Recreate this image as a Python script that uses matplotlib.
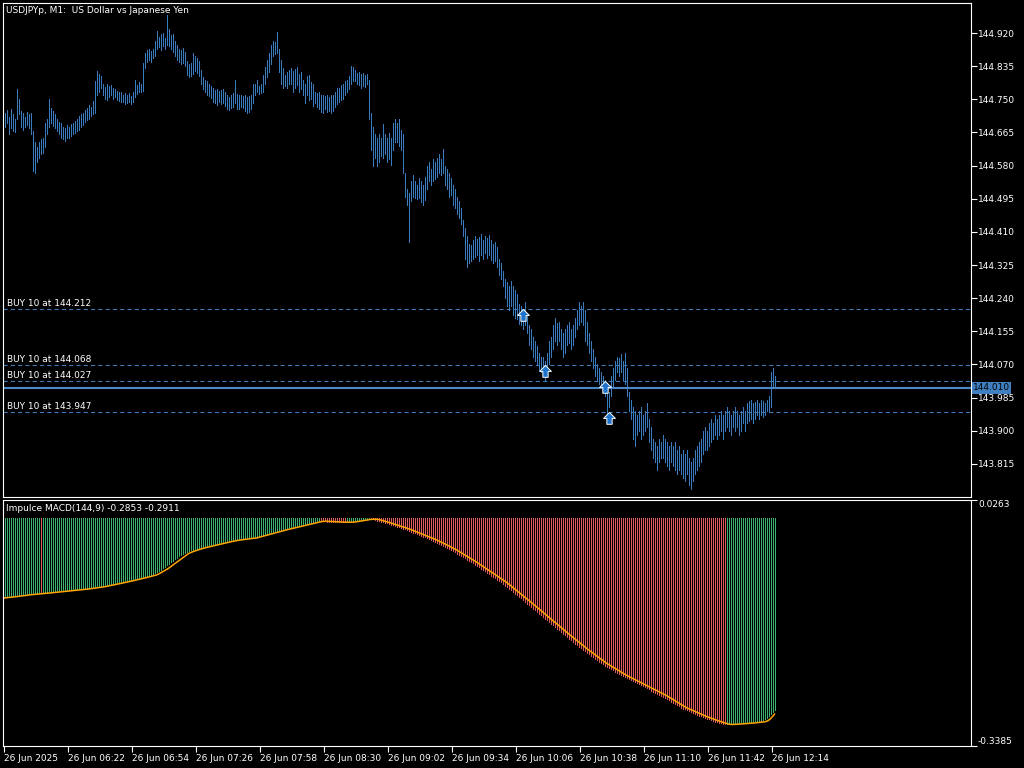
import numpy as np
import matplotlib
matplotlib.use("Agg")
import matplotlib.pyplot as plt
from matplotlib.path import Path
from matplotlib.ticker import FormatStrFormatter

# M1 bars, USDJPYp, 26 Jun 2025 from 05:50
highs = [
    144.716, 144.722, 144.705, 144.724, 144.712, 144.700, 144.776, 144.752, 144.720, 144.715,
    144.705, 144.718, 144.712, 144.716, 144.668, 144.640, 144.628, 144.640, 144.648, 144.650,
    144.688, 144.700, 144.752, 144.728, 144.720, 144.712, 144.700, 144.692, 144.690, 144.680,
    144.676, 144.684, 144.680, 144.686, 144.690, 144.694, 144.700, 144.706, 144.712, 144.716,
    144.722, 144.728, 144.736, 144.730, 144.746, 144.798, 144.822, 144.816, 144.810, 144.790,
    144.782, 144.790, 144.784, 144.786, 144.780, 144.776, 144.772, 144.770, 144.768, 144.762,
    144.766, 144.760, 144.766, 144.758, 144.770, 144.800, 144.786, 144.794, 144.790, 144.842,
    144.870, 144.876, 144.878, 144.874, 144.880, 144.900, 144.926, 144.910, 144.918, 144.920,
    144.906, 144.965, 144.930, 144.914, 144.918, 144.900, 144.890, 144.880, 144.876, 144.882,
    144.872, 144.848, 144.840, 144.844, 144.870, 144.862, 144.856, 144.848, 144.826, 144.808,
    144.800, 144.796, 144.790, 144.784, 144.778, 144.774, 144.776, 144.772, 144.774, 144.776,
    144.770, 144.760, 144.756, 144.760, 144.766, 144.800, 144.764, 144.760, 144.762, 144.758,
    144.760, 144.756, 144.758, 144.760, 144.788, 144.790, 144.800, 144.784, 144.790, 144.812,
    144.832, 144.850, 144.870, 144.888, 144.900, 144.898, 144.922, 144.880, 144.850, 144.830,
    144.812, 144.820, 144.824, 144.830, 144.822, 144.828, 144.832, 144.814, 144.820, 144.800,
    144.790, 144.810, 144.812, 144.794, 144.790, 144.770, 144.766, 144.770, 144.760, 144.762,
    144.758, 144.762, 144.756, 144.760, 144.762, 144.770, 144.780, 144.778, 144.786, 144.790,
    144.798, 144.800, 144.810, 144.836, 144.832, 144.826, 144.818, 144.820, 144.816, 144.818,
    144.812, 144.816, 144.800, 144.715, 144.680, 144.660, 144.652, 144.660, 144.650, 144.686,
    144.660, 144.650, 144.664, 144.650, 144.690, 144.700, 144.690, 144.700, 144.672, 144.660,
    144.560, 144.520, 144.510, 144.540, 144.556, 144.540, 144.530, 144.548, 144.540, 144.530,
    144.552, 144.580, 144.590, 144.572, 144.596, 144.590, 144.600, 144.610, 144.598, 144.622,
    144.580, 144.570, 144.560, 144.548, 144.530, 144.520, 144.500, 144.490, 144.470, 144.440,
    144.420, 144.400, 144.380, 144.376, 144.390, 144.400, 144.392, 144.396, 144.404, 144.390,
    144.400, 144.394, 144.402, 144.390, 144.380, 144.384, 144.370, 144.340, 144.330, 144.310,
    144.290, 144.282, 144.270, 144.284, 144.270, 144.260, 144.250, 144.226, 144.220, 144.210,
    144.230, 144.200, 144.170, 144.160, 144.140, 144.130, 144.116, 144.100, 144.090, 144.090,
    144.080, 144.100, 144.130, 144.140, 144.170, 144.190, 144.176, 144.180, 144.160, 144.150,
    144.160, 144.170, 144.180, 144.160, 144.170, 144.190, 144.210, 144.230, 144.220, 144.230,
    144.210, 144.180, 144.150, 144.130, 144.110, 144.090, 144.070, 144.060, 144.050, 144.040,
    144.030, 144.020, 144.000, 144.040, 144.060, 144.080, 144.090, 144.086, 144.096, 144.080,
    144.100, 144.060, 144.000, 143.980, 143.960, 143.950, 143.940, 143.950, 143.960, 143.940,
    143.950, 143.970, 143.930, 143.910, 143.880, 143.870, 143.860, 143.880, 143.870, 143.890,
    143.880, 143.870, 143.860, 143.870, 143.860, 143.870, 143.850, 143.860, 143.840, 143.850,
    143.840, 143.850, 143.830, 143.820, 143.830, 143.850, 143.860, 143.870, 143.880, 143.900,
    143.910, 143.900, 143.920, 143.930, 143.920, 143.940, 143.930, 143.940, 143.950, 143.940,
    143.950, 143.960, 143.950, 143.940, 143.950, 143.960, 143.950, 143.940, 143.950, 143.960,
    143.950, 143.970, 143.976, 143.980, 143.970, 143.974, 143.980, 143.970, 143.980, 143.976,
    143.970, 143.980, 143.990, 144.050, 144.060, 144.040,
]
lows = [
    144.680, 144.690, 144.662, 144.676, 144.668, 144.665, 144.700, 144.712, 144.680, 144.672,
    144.680, 144.684, 144.676, 144.662, 144.565, 144.562, 144.590, 144.600, 144.610, 144.612,
    144.628, 144.660, 144.680, 144.690, 144.682, 144.676, 144.668, 144.660, 144.650, 144.648,
    144.644, 144.650, 144.652, 144.656, 144.660, 144.664, 144.668, 144.670, 144.678, 144.684,
    144.692, 144.696, 144.700, 144.706, 144.712, 144.716, 144.760, 144.770, 144.780, 144.760,
    144.752, 144.748, 144.756, 144.760, 144.752, 144.756, 144.748, 144.746, 144.744, 144.742,
    144.738, 144.740, 144.744, 144.738, 144.742, 144.756, 144.764, 144.770, 144.768, 144.772,
    144.830, 144.846, 144.850, 144.846, 144.856, 144.860, 144.880, 144.884, 144.876, 144.886,
    144.880, 144.890, 144.886, 144.880, 144.872, 144.862, 144.850, 144.846, 144.840, 144.844,
    144.836, 144.812, 144.806, 144.810, 144.816, 144.822, 144.818, 144.810, 144.790, 144.776,
    144.770, 144.760, 144.758, 144.754, 144.744, 144.740, 144.736, 144.742, 144.738, 144.740,
    144.734, 144.724, 144.722, 144.728, 144.730, 144.740, 144.726, 144.724, 144.730, 144.728,
    144.720, 144.714, 144.718, 144.724, 144.740, 144.760, 144.768, 144.764, 144.766, 144.770,
    144.790, 144.806, 144.820, 144.840, 144.860, 144.866, 144.870, 144.820, 144.790, 144.780,
    144.784, 144.780, 144.790, 144.788, 144.770, 144.780, 144.786, 144.768, 144.776, 144.762,
    144.740, 144.760, 144.748, 144.752, 144.732, 144.740, 144.730, 144.724, 144.718, 144.714,
    144.726, 144.718, 144.720, 144.716, 144.720, 144.730, 144.738, 144.744, 144.748, 144.752,
    144.760, 144.770, 144.776, 144.790, 144.796, 144.796, 144.790, 144.786, 144.780, 144.784,
    144.782, 144.790, 144.700, 144.620, 144.580, 144.600, 144.580, 144.590, 144.605, 144.600,
    144.610, 144.588, 144.596, 144.582, 144.620, 144.640, 144.640, 144.630, 144.620, 144.560,
    144.500, 144.480, 144.385, 144.490, 144.500, 144.496, 144.494, 144.498, 144.486, 144.480,
    144.492, 144.520, 144.540, 144.530, 144.540, 144.546, 144.552, 144.560, 144.556, 144.560,
    144.530, 144.520, 144.500, 144.504, 144.480, 144.470, 144.456, 144.446, 144.430, 144.400,
    144.340, 144.320, 144.330, 144.336, 144.340, 144.346, 144.350, 144.336, 144.350, 144.340,
    144.356, 144.344, 144.350, 144.338, 144.330, 144.336, 144.320, 144.300, 144.290, 144.270,
    144.240, 144.220, 144.210, 144.220, 144.196, 144.190, 144.186, 144.174, 144.170, 144.160,
    144.170, 144.150, 144.120, 144.110, 144.090, 144.080, 144.070, 144.056, 144.050, 144.046,
    144.030, 144.040, 144.070, 144.090, 144.110, 144.130, 144.120, 144.130, 144.110, 144.090,
    144.100, 144.120, 144.126, 144.110, 144.120, 144.140, 144.160, 144.170, 144.180, 144.170,
    144.130, 144.120, 144.100, 144.080, 144.060, 144.040, 144.030, 144.020, 144.010, 144.000,
    143.990, 143.940, 143.960, 143.990, 144.010, 144.030, 144.050, 144.040, 144.050, 144.030,
    144.020, 143.990, 143.950, 143.930, 143.880, 143.860, 143.890, 143.900, 143.880, 143.890,
    143.900, 143.910, 143.870, 143.850, 143.830, 143.820, 143.800, 143.820, 143.830, 143.830,
    143.820, 143.810, 143.800, 143.820, 143.810, 143.800, 143.790, 143.800, 143.790, 143.780,
    143.770, 143.790, 143.760, 143.750, 143.770, 143.790, 143.800, 143.810, 143.820, 143.840,
    143.850, 143.850, 143.860, 143.870, 143.880, 143.890, 143.880, 143.890, 143.900, 143.880,
    143.900, 143.910, 143.900, 143.890, 143.910, 143.900, 143.910, 143.890, 143.900, 143.920,
    143.900, 143.920, 143.926, 143.930, 143.920, 143.930, 143.940, 143.930, 143.940, 143.936,
    143.940, 143.950, 143.950, 143.960, 144.010, 144.010,
]

# Impulse MACD(144,9) histogram and signal
macd = [
    -0.1180, -0.1177, -0.1173, -0.1170, -0.1166, -0.1163, -0.1158, -0.1154, -0.1150, -0.1147,
    -0.1143, -0.1140, -0.1137, -0.1133, -0.1130, -0.1127, -0.1124, -0.1120, -0.1122, -0.1118,
    -0.1115, -0.1112, -0.1108, -0.1105, -0.1102, -0.1099, -0.1096, -0.1093, -0.1090, -0.1087,
    -0.1084, -0.1081, -0.1078, -0.1075, -0.1072, -0.1069, -0.1066, -0.1063, -0.1060, -0.1057,
    -0.1053, -0.1050, -0.1046, -0.1042, -0.1038, -0.1034, -0.1030, -0.1024, -0.1018, -0.1012,
    -0.1006, -0.1000, -0.0994, -0.0988, -0.0981, -0.0975, -0.0969, -0.0962, -0.0956, -0.0949,
    -0.0943, -0.0936, -0.0930, -0.0923, -0.0916, -0.0909, -0.0902, -0.0895, -0.0888, -0.0880,
    -0.0872, -0.0865, -0.0857, -0.0849, -0.0835, -0.0820, -0.0803, -0.0786, -0.0768, -0.0750,
    -0.0728, -0.0705, -0.0683, -0.0661, -0.0639, -0.0617, -0.0595, -0.0574, -0.0552, -0.0532,
    -0.0518, -0.0506, -0.0495, -0.0485, -0.0475, -0.0466, -0.0457, -0.0449, -0.0441, -0.0434,
    -0.0427, -0.0420, -0.0413, -0.0406, -0.0399, -0.0392, -0.0385, -0.0378, -0.0371, -0.0364,
    -0.0358, -0.0352, -0.0346, -0.0340, -0.0334, -0.0330, -0.0326, -0.0322, -0.0318, -0.0314,
    -0.0310, -0.0306, -0.0303, -0.0300, -0.0292, -0.0284, -0.0276, -0.0268, -0.0260, -0.0252,
    -0.0244, -0.0236, -0.0228, -0.0220, -0.0212, -0.0204, -0.0196, -0.0188, -0.0180, -0.0173,
    -0.0166, -0.0159, -0.0152, -0.0145, -0.0138, -0.0131, -0.0124, -0.0117, -0.0110, -0.0103,
    -0.0096, -0.0089, -0.0082, -0.0075, -0.0068, -0.0061, -0.0054, -0.0048, -0.0050, -0.0052,
    -0.0054, -0.0056, -0.0058, -0.0060, -0.0062, -0.0063, -0.0064, -0.0065, -0.0066, -0.0067,
    -0.0068, -0.0064, -0.0060, -0.0055, -0.0050, -0.0045, -0.0040, -0.0035, -0.0030, -0.0026,
    -0.0022, -0.0019, -0.0017, -0.0020, -0.0026, -0.0033, -0.0041, -0.0049, -0.0058, -0.0067,
    -0.0076, -0.0085, -0.0095, -0.0105, -0.0115, -0.0124, -0.0133, -0.0142, -0.0152, -0.0162,
    -0.0173, -0.0184, -0.0196, -0.0208, -0.0220, -0.0232, -0.0244, -0.0256, -0.0268, -0.0280,
    -0.0292, -0.0304, -0.0316, -0.0328, -0.0342, -0.0356, -0.0370, -0.0385, -0.0400, -0.0415,
    -0.0430, -0.0445, -0.0461, -0.0477, -0.0495, -0.0513, -0.0531, -0.0549, -0.0567, -0.0585,
    -0.0603, -0.0621, -0.0639, -0.0657, -0.0677, -0.0697, -0.0717, -0.0737, -0.0757, -0.0777,
    -0.0797, -0.0817, -0.0837, -0.0857, -0.0877, -0.0897, -0.0917, -0.0937, -0.0957, -0.0981,
    -0.1005, -0.1029, -0.1053, -0.1077, -0.1101, -0.1125, -0.1149, -0.1173, -0.1197, -0.1222,
    -0.1247, -0.1272, -0.1297, -0.1322, -0.1347, -0.1372, -0.1397, -0.1422, -0.1447, -0.1472,
    -0.1497, -0.1522, -0.1547, -0.1572, -0.1597, -0.1622, -0.1647, -0.1672, -0.1697, -0.1721,
    -0.1745, -0.1769, -0.1793, -0.1817, -0.1841, -0.1865, -0.1889, -0.1913, -0.1937, -0.1959,
    -0.1981, -0.2003, -0.2025, -0.2047, -0.2069, -0.2091, -0.2113, -0.2135, -0.2157, -0.2175,
    -0.2193, -0.2211, -0.2229, -0.2247, -0.2265, -0.2283, -0.2301, -0.2319, -0.2337, -0.2352,
    -0.2367, -0.2382, -0.2397, -0.2412, -0.2427, -0.2442, -0.2457, -0.2472, -0.2487, -0.2502,
    -0.2517, -0.2532, -0.2547, -0.2562, -0.2577, -0.2592, -0.2607, -0.2622, -0.2637, -0.2655,
    -0.2673, -0.2691, -0.2709, -0.2727, -0.2745, -0.2763, -0.2781, -0.2799, -0.2817, -0.2830,
    -0.2843, -0.2856, -0.2869, -0.2882, -0.2895, -0.2908, -0.2921, -0.2934, -0.2947, -0.2958,
    -0.2969, -0.2980, -0.2991, -0.3002, -0.3012, -0.3022, -0.3032, -0.3041, -0.3050, -0.3058,
    -0.3065, -0.3063, -0.3061, -0.3059, -0.3057, -0.3055, -0.3053, -0.3051, -0.3049, -0.3046,
    -0.3043, -0.3040, -0.3037, -0.3034, -0.3031, -0.3027, -0.3022, -0.3016, -0.3009, -0.3000,
    -0.2988, -0.2970, -0.2945, -0.2915, -0.2883, -0.2853,
]
signal = [
    -0.1190, -0.1186, -0.1183, -0.1180, -0.1177, -0.1173, -0.1170, -0.1166, -0.1163, -0.1158,
    -0.1154, -0.1150, -0.1147, -0.1143, -0.1140, -0.1137, -0.1133, -0.1130, -0.1127, -0.1124,
    -0.1121, -0.1120, -0.1118, -0.1115, -0.1112, -0.1108, -0.1105, -0.1102, -0.1099, -0.1096,
    -0.1093, -0.1090, -0.1087, -0.1084, -0.1081, -0.1078, -0.1075, -0.1072, -0.1069, -0.1066,
    -0.1063, -0.1060, -0.1057, -0.1053, -0.1050, -0.1046, -0.1042, -0.1038, -0.1034, -0.1030,
    -0.1024, -0.1018, -0.1012, -0.1006, -0.1000, -0.0994, -0.0988, -0.0981, -0.0975, -0.0969,
    -0.0962, -0.0956, -0.0949, -0.0943, -0.0936, -0.0930, -0.0923, -0.0916, -0.0909, -0.0902,
    -0.0895, -0.0888, -0.0880, -0.0872, -0.0865, -0.0857, -0.0849, -0.0835, -0.0820, -0.0803,
    -0.0786, -0.0768, -0.0750, -0.0728, -0.0705, -0.0683, -0.0661, -0.0639, -0.0617, -0.0595,
    -0.0574, -0.0552, -0.0532, -0.0518, -0.0506, -0.0495, -0.0485, -0.0475, -0.0466, -0.0457,
    -0.0449, -0.0441, -0.0434, -0.0427, -0.0420, -0.0413, -0.0406, -0.0399, -0.0392, -0.0385,
    -0.0378, -0.0371, -0.0364, -0.0358, -0.0352, -0.0346, -0.0340, -0.0334, -0.0330, -0.0326,
    -0.0322, -0.0318, -0.0314, -0.0310, -0.0306, -0.0303, -0.0300, -0.0292, -0.0284, -0.0276,
    -0.0268, -0.0260, -0.0252, -0.0244, -0.0236, -0.0228, -0.0220, -0.0212, -0.0204, -0.0196,
    -0.0188, -0.0180, -0.0173, -0.0166, -0.0159, -0.0152, -0.0145, -0.0138, -0.0131, -0.0124,
    -0.0117, -0.0110, -0.0103, -0.0096, -0.0089, -0.0082, -0.0075, -0.0068, -0.0061, -0.0056,
    -0.0053, -0.0052, -0.0053, -0.0054, -0.0056, -0.0058, -0.0060, -0.0062, -0.0063, -0.0064,
    -0.0065, -0.0066, -0.0067, -0.0067, -0.0066, -0.0064, -0.0060, -0.0055, -0.0050, -0.0045,
    -0.0040, -0.0035, -0.0030, -0.0026, -0.0023, -0.0021, -0.0022, -0.0026, -0.0033, -0.0041,
    -0.0049, -0.0058, -0.0067, -0.0076, -0.0085, -0.0095, -0.0105, -0.0115, -0.0124, -0.0133,
    -0.0142, -0.0152, -0.0162, -0.0173, -0.0184, -0.0196, -0.0208, -0.0220, -0.0232, -0.0244,
    -0.0256, -0.0268, -0.0280, -0.0292, -0.0304, -0.0316, -0.0328, -0.0342, -0.0356, -0.0370,
    -0.0385, -0.0400, -0.0415, -0.0430, -0.0445, -0.0461, -0.0477, -0.0495, -0.0513, -0.0531,
    -0.0549, -0.0567, -0.0585, -0.0603, -0.0621, -0.0639, -0.0657, -0.0677, -0.0697, -0.0717,
    -0.0737, -0.0757, -0.0777, -0.0797, -0.0817, -0.0837, -0.0857, -0.0877, -0.0897, -0.0917,
    -0.0937, -0.0957, -0.0981, -0.1005, -0.1029, -0.1053, -0.1077, -0.1101, -0.1125, -0.1149,
    -0.1173, -0.1197, -0.1222, -0.1247, -0.1272, -0.1297, -0.1322, -0.1347, -0.1372, -0.1397,
    -0.1422, -0.1447, -0.1472, -0.1497, -0.1522, -0.1547, -0.1572, -0.1597, -0.1622, -0.1647,
    -0.1672, -0.1697, -0.1721, -0.1745, -0.1769, -0.1793, -0.1817, -0.1841, -0.1865, -0.1889,
    -0.1913, -0.1937, -0.1959, -0.1981, -0.2003, -0.2025, -0.2047, -0.2069, -0.2091, -0.2113,
    -0.2135, -0.2157, -0.2175, -0.2193, -0.2211, -0.2229, -0.2247, -0.2265, -0.2283, -0.2301,
    -0.2319, -0.2337, -0.2352, -0.2367, -0.2382, -0.2397, -0.2412, -0.2427, -0.2442, -0.2457,
    -0.2472, -0.2487, -0.2502, -0.2517, -0.2532, -0.2547, -0.2562, -0.2577, -0.2592, -0.2607,
    -0.2622, -0.2637, -0.2655, -0.2673, -0.2691, -0.2709, -0.2727, -0.2745, -0.2763, -0.2781,
    -0.2799, -0.2817, -0.2830, -0.2843, -0.2856, -0.2869, -0.2882, -0.2895, -0.2908, -0.2921,
    -0.2934, -0.2947, -0.2958, -0.2969, -0.2980, -0.2991, -0.3002, -0.3012, -0.3022, -0.3032,
    -0.3041, -0.3050, -0.3058, -0.3064, -0.3066, -0.3065, -0.3063, -0.3061, -0.3059, -0.3057,
    -0.3055, -0.3053, -0.3051, -0.3049, -0.3046, -0.3043, -0.3040, -0.3037, -0.3034, -0.3031,
    -0.3027, -0.3018, -0.3005, -0.2980, -0.2948, -0.2911,
]

time_labels = ['26 Jun 2025', '26 Jun 06:22', '26 Jun 06:54', '26 Jun 07:26',
               '26 Jun 07:58', '26 Jun 08:30', '26 Jun 09:02', '26 Jun 09:34',
               '26 Jun 10:06', '26 Jun 10:38', '26 Jun 11:10', '26 Jun 11:42',
               '26 Jun 12:14']
time_label_bars = [0, 32, 64, 96, 128, 160, 192, 224, 256, 288, 320, 352, 384]
price_ticks = [144.920, 144.835, 144.750, 144.665, 144.580, 144.495, 144.410,
               144.325, 144.240, 144.155, 144.070, 143.985, 143.900, 143.815]
buy_prices = [144.212, 144.068, 144.027, 143.947]
buy_bars = [259, 270, 300, 302]
bid = 144.010
macd_range = [-0.3385, 0.0263]
macd_last, signal_last = -0.2853, -0.2911

bar_color = '#3a7bbd'
green = '#3cb371'
red = '#e05a5a'

plt.rcParams['font.family'] = 'DejaVu Sans'
fs = 6.5

W, H = 1024, 768
fig = plt.figure(figsize=(W / 100, H / 100), dpi=100, facecolor='black')
ax = fig.add_axes([3 / W, 1 - 497 / H, 968 / W, 494 / H])
ax2 = fig.add_axes([3 / W, 1 - 746 / H, 968 / W, 246 / H])

for a in (ax, ax2):
    a.set_facecolor('black')
    for s in a.spines.values():
        s.set_color('white')
        s.set_linewidth(0.8)
    # bars land on pixel centres, 2 px apart
    a.set_xlim(-0.75, 483.25)

idx = np.arange(len(highs))

# price panel
ax.vlines(idx, lows, highs, colors=bar_color, linewidth=0.55, antialiased=False)
ax.set_ylim(143.730, 144.997)
for p in buy_prices:
    ax.axhline(p, color=bar_color, lw=0.75, linestyle=(0, (4, 3)))
    ax.annotate(f'BUY 10 at {p:.3f}', xy=(0, p), xycoords=ax.get_yaxis_transform(),
                xytext=(4, 3), textcoords='offset pixels', color='white',
                fontsize=fs, ha='left', va='baseline')
ax.axhline(bid, color='#4a88c8', lw=1.5)

arrow = Path([(0, 0), (-1, -1), (-0.45, -1), (-0.45, -2), (0.45, -2), (0.45, -1), (1, -1), (0, 0)],
             [Path.MOVETO] + [Path.LINETO] * 6 + [Path.CLOSEPOLY])
ax.plot(buy_bars, buy_prices, linestyle='none', marker=arrow, markersize=17,
        markerfacecolor='#1e74cc', markeredgecolor='white', markeredgewidth=0.7)

ax.set_yticks(price_ticks)
ax.yaxis.set_major_formatter(FormatStrFormatter('%.3f'))
ax.tick_params(axis='y', left=False, labelleft=False, right=True, labelright=True,
               colors='white', length=4, width=0.8, labelsize=fs, pad=1)
ax.tick_params(axis='x', bottom=False, labelbottom=False)
ax.text(1.002, bid, f'{bid:.3f}', transform=ax.get_yaxis_transform(), color='black',
        fontsize=fs, ha='left', va='center',
        bbox=dict(boxstyle='square,pad=0.15', facecolor='#3f7fc0', edgecolor='none'))
ax.annotate('USDJPYp, M1:  US Dollar vs Japanese Yen', xy=(0, 1), xycoords='axes fraction',
            xytext=(3, -3), textcoords='offset pixels', color='white', fontsize=fs,
            ha='left', va='top')

# indicator panel
hist_colors = [green if i == 0 or macd[i] >= macd[i - 1] else red for i in range(len(macd))]
ax2.vlines(idx, macd, 0, colors=hist_colors, linewidth=0.55, antialiased=False)
ax2.plot(idx, signal, color='#ffa500', lw=1.1)
ax2.set_ylim(macd_range[0], macd_range[1])
ax2.set_yticks(macd_range)
ax2.set_yticklabels(['-0.3385', '0.0263'])
ax2.tick_params(axis='y', left=False, labelleft=False, right=True, labelright=True,
                colors='white', length=4, width=0.8, labelsize=fs, pad=1)
ylabels = ax2.get_yticklabels()
ylabels[0].set_va('bottom')
ylabels[1].set_va('top')
ax2.set_xticks([b - 0.5 for b in time_label_bars])
ax2.set_xticklabels(time_labels, ha='left')
ax2.tick_params(axis='x', colors='white', length=4, width=0.8, labelsize=fs, pad=2)
ax2.annotate(f'Impulce MACD(144,9) {macd_last:.4f} {signal_last:.4f}', xy=(0, 1),
             xycoords='axes fraction', xytext=(3, -4), textcoords='offset pixels',
             color='white', fontsize=fs, ha='left', va='top')

fig.savefig('out.png', dpi=100, facecolor='black')
